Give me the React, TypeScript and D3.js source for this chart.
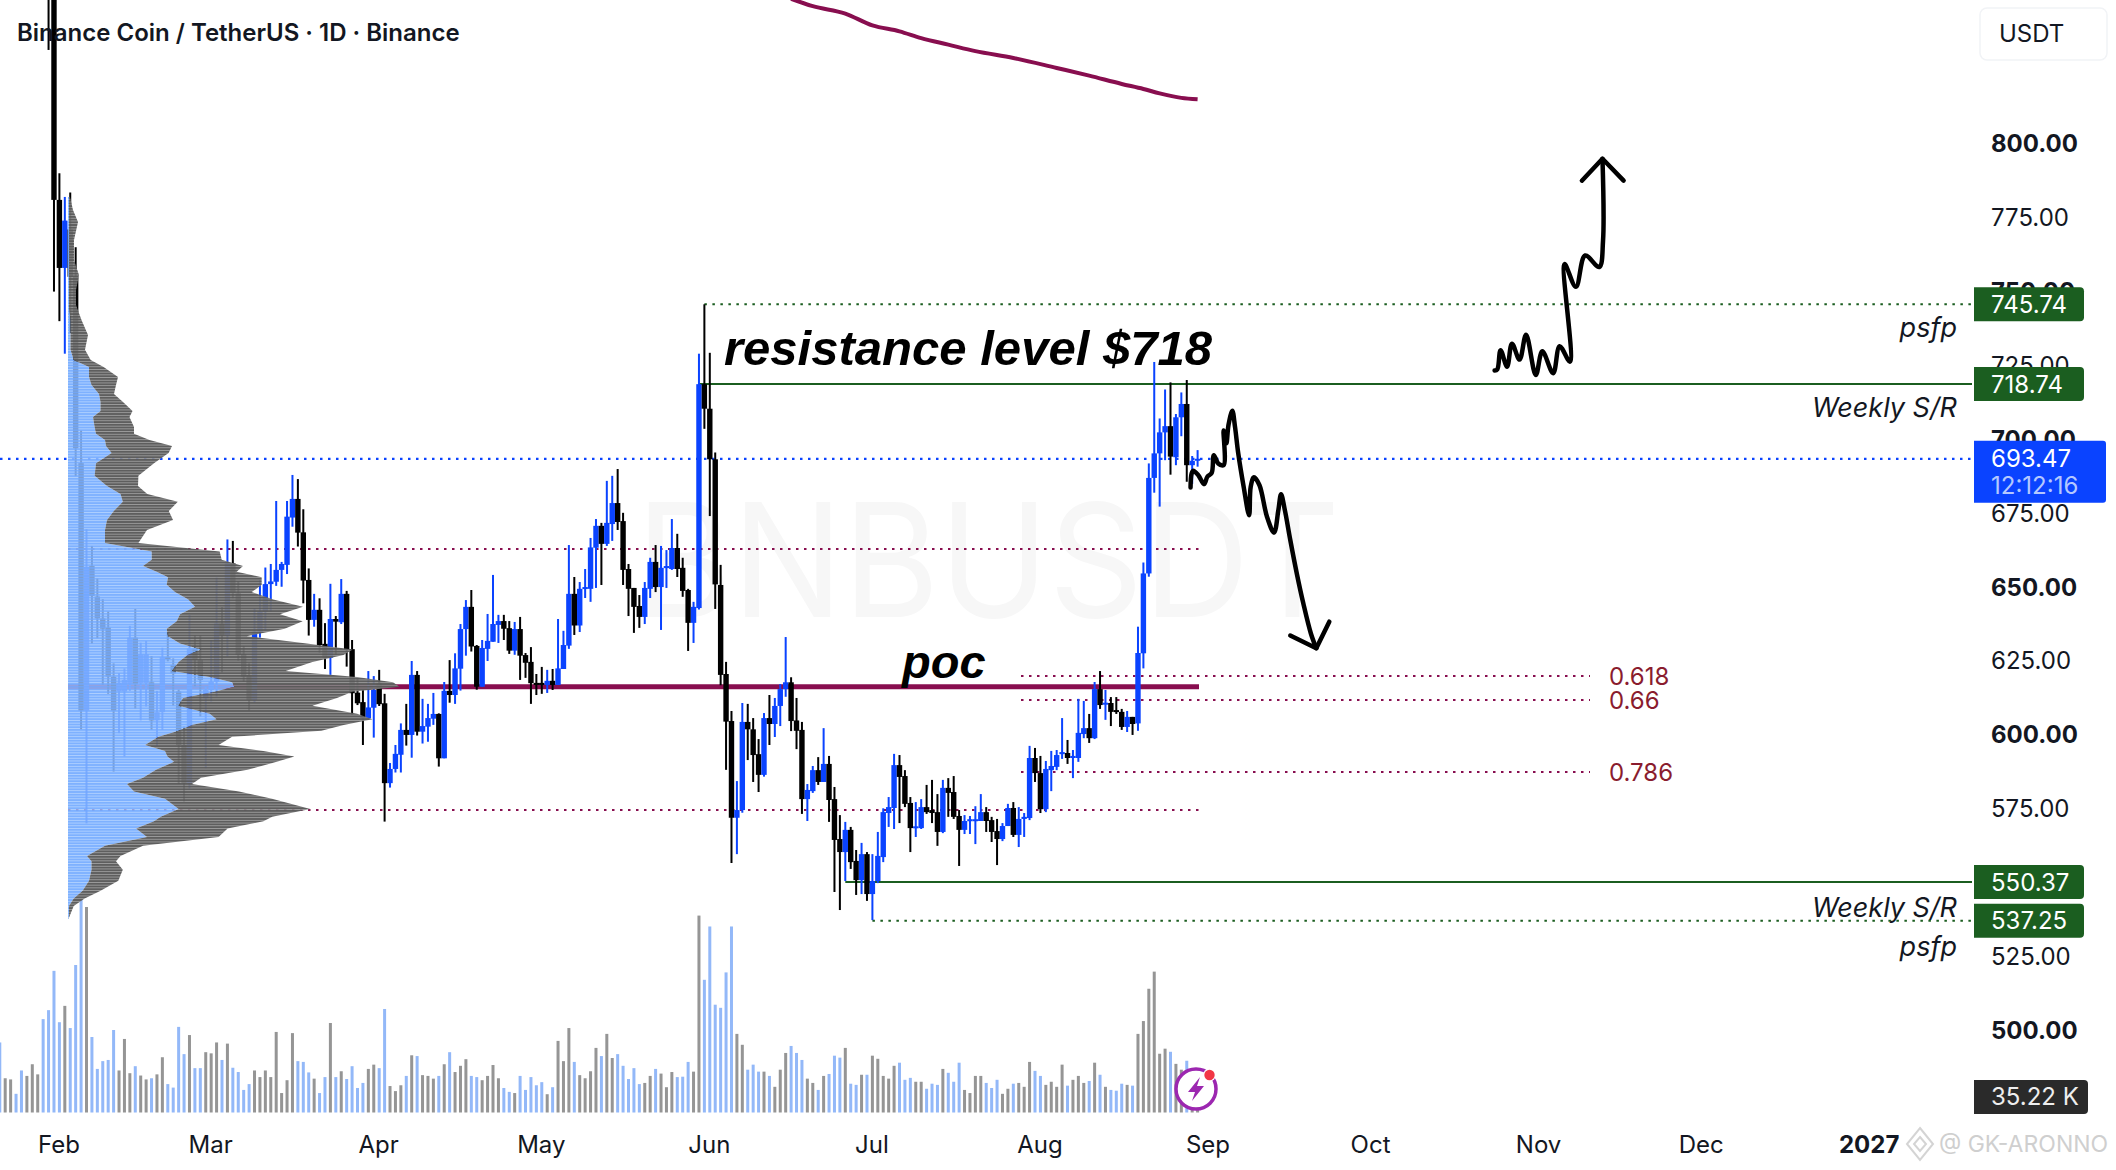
import * as d3 from 'd3';
import { useEffect, useRef } from 'react';

const WIDTH = 2116;
const HEIGHT = 1170;

// candles start two days before Feb 1 (index 0 = day -2), Binance BNB/USDT daily
const FIRST_CANDLE_DAY = -2;
const opens = [870,860,781,758,771,755,692,608.3,657.2,646.9,639.5,636.4,619.8,614.8,614.8,617.3,633,617.6,617.6,617.9,605,607.8,626.4,623.8,614.8,596.7,583.8,629.4,625.4,612.5,615.3,618.1,637.8,633.7,658.1,648,627.5,620.4,611.9,635,641.8,651.1,651.9,655.9,657.6,673.6,679.9,668.6,652.5,639,642.4,630.9,626.2,639.3,638.2,647.8,629.1,614.4,611.2,605.7,609.3,617.6,610.8,583.8,588.6,593.4,601.8,600.1,620.4,601.2,602.9,605.6,607.2,592.2,615,613.6,622.5,635.9,643.4,630.2,616.4,629.2,631.6,637.3,638.6,636.2,628.6,635.9,627.1,624.8,617.7,617.7,617,618.4,617,622.4,630.3,647.8,637.1,649.5,649.5,663.4,670.8,664.7,671.4,678.5,672.4,656.2,649.8,643.7,640,649.5,658.6,650.1,656.5,656.2,663.3,656.6,649.1,638,643,718.7,710.4,693.3,650.8,620.7,604.8,572.1,574.7,604.5,602,593.6,586.6,605.8,603.8,609.9,615.6,617.9,605,601.8,578.4,581.1,588.2,584.2,590.3,578.4,564.9,560.5,568,557.5,551,559.8,546.3,550.7,558.8,573.7,575.4,589.9,586.2,577.1,568.6,568.6,575.7,574.7,574,567.3,582.2,580.8,572.7,568,571,571.2,571,574,571.3,567.6,564.9,569.3,575.4,566.3,571.7,572,592.3,587.2,575,588.2,589.3,593.6,594,592.3,592.3,600.4,602.4,599,615.6,610.5,610.9,608.5,607.9,602.8,606.2,604,627.7,654.7,687,695.3,702.4,704.5,694,707.5,712,691.3,692.8];
const highs = [875,870,790,782,783.5,765,703,669.7,664,653,646,641.8,624.3,621,622.6,637,642.7,631.3,631.9,626.8,615,629.6,634.8,626,615.5,602.9,640.7,633.7,633.7,616.5,632.2,653.3,643.3,666.2,665.7,652,630.2,624.3,642.9,652.5,656.7,657.9,679.2,658.6,679.2,688,686.6,676.4,656.4,647.8,646.3,637.9,651.2,640.3,652.8,648.8,632.2,619.3,615.3,621.7,620,622.1,614,590.6,596.7,604,610.6,625.1,621.7,612.3,610.6,614.3,607.4,618,625.4,627.7,637.6,645.7,649.1,630.5,632.2,641,654.2,640.7,640.7,638.6,638.3,640,627.8,629.8,620.7,623.1,622.1,622.4,639.3,635.3,664.3,653.5,651.8,656.2,666.7,673.1,671.8,686,687.7,690,675.2,657.9,649.8,647.4,651.8,660,664.3,664,662.6,673.1,668.1,660,649.5,645.1,729,745.7,729.3,695.6,657.6,624.8,608.2,584.5,610.9,610.6,605.8,598.7,607.5,613.6,612.6,617.3,633.2,619.6,612.6,604.5,583.5,589.6,592.6,602.4,593,582.5,573,570.7,569,561.2,563.6,560.5,559.8,567.3,575.3,579.1,593.7,593.3,588.2,579.1,577.4,578.4,583.2,584.9,580.1,584.9,585.5,586.2,574.7,573,572.7,576,580.1,575.7,572.4,571.7,570.3,576.8,577.4,575.7,573.7,596.4,595.7,593,591.3,594.7,595,605.8,598.4,595,612.3,611.6,607.2,618,621.7,615.3,612.9,612.9,608.9,608.2,606.2,636.7,658.4,691.9,726.2,707.1,716.9,719.3,708.6,715.9,720.1,694.4,696.4];
const lows = [831.7,750,740,729,736,687.6,602,570.2,631,632.8,617,614,587.7,600.7,592.8,615,609,605,609.7,601.8,596.4,601.8,625,610,583.5,577.6,582,616.4,606.3,588.8,611.4,613.1,621.2,626.6,646.3,625.2,618.1,608.3,611,633,635.4,641.8,650.5,650.2,654.5,670.5,663.8,644.6,633.7,636.7,627.9,622.4,620.4,627.2,637.6,623.2,606.9,610.2,596.7,605.4,599.2,609.9,570.8,582.3,587.4,587.4,596.5,592.4,599.9,597.2,597.8,603.5,589.4,592.2,611,610.6,615.1,626.9,628.3,615.4,616.4,625.1,631.6,631.2,632.2,627.5,627.2,618.7,619.4,610.6,613.6,614,614.3,615.3,617,622.4,629.2,633.9,634.9,646.4,645.1,649.8,650.8,664,665.7,669.4,650.8,640.3,634.6,636.3,637.6,646.4,648.4,635.6,649.8,655.9,653.5,646.8,628.5,631.2,642.5,703.6,674.1,642.7,616.9,588.3,556.8,559.8,573.8,591.6,584.2,580.8,586,596.7,599.4,603.1,613,601.4,595.3,573.4,571,580.5,583.2,584.2,570.7,547,540.9,550.7,554.8,546,546.3,544,537.5,550,557.1,569,568.3,570.3,575.7,560.5,565.6,568.3,573.4,570.3,562.6,566.9,572.4,571.7,555.8,566.6,566.6,563.2,571,567.3,563.9,556.1,564.2,569.3,565.6,562.2,565.6,571.3,584.2,573.7,574,581.1,588.2,592,590.3,585.5,591,599,597.4,598.7,608.9,605.2,603.1,607.2,601.8,601.1,600.1,601.5,622.6,653.6,682,677.3,693,688.1,691.3,701.1,685.7,685,690.8];
const closes = [855,781,758,774,755,697,608.3,657,647.1,639.5,636,619.8,608.3,617.8,618.7,633,617.3,627.4,627.4,605,607.8,626.4,625.8,620.9,596.7,583.8,629.4,625.4,618.7,615.3,618.1,637.8,633.7,658.1,648,627.1,619.8,611.9,635,641.8,651.1,652,655.9,657.9,673.9,679.9,668.5,652.3,639,642.4,630.5,626.2,639.3,638.4,647.8,628.8,614.2,610.8,605.7,609.4,615.3,610.5,583.8,588.6,593.7,601.8,600.1,620.4,601.2,603.1,605.8,607.2,592.2,615,613.6,622.6,635.9,643.4,630,616.4,629.5,631.9,637.6,638.6,636,628.6,635.9,626.9,624.5,617.6,617,617,618.4,617,622.6,630.5,647.8,637.1,649.5,650.1,663.5,670.8,664.7,671.8,678.5,672.1,655.9,649.5,643.4,640,649.8,658.6,650.1,656.6,657.2,663.3,656.2,648.8,638,643.4,718.7,710.4,693.3,651,620.4,604.6,572.1,574.7,604.5,602,593.3,586.6,605.8,603.8,609.9,615.6,617.9,604.8,601.5,578.4,581.5,588.2,584.2,590.3,578.1,564.6,560.5,568,557.1,551,559.8,546.3,550.7,559.2,574,575.7,589.9,585.9,576.8,568.6,569.2,575.7,574,573.7,567.3,582.2,580.5,572.4,568,571,571.6,571.6,574,571,567.3,564.9,569.3,575.4,566.3,571.7,572.4,592.3,587.2,575,588.6,589.6,593.3,594.3,592.3,593,600.8,602.4,599,615.6,610.2,611,607.9,607.9,602.8,606.2,603.8,627.8,654.7,687,695.3,702.4,704.5,694.2,707.5,712,691.3,692.8,693.47];

// volume in thousands, first bar is 11 days before Feb 1
const FIRST_VOLUME_DAY = -11;
const volumes = [180,88,85,48,108,94,124,98,240,263,364,232,274,217,379,547,528,194,112,132,135,212,108,189,101,119,95,85,88,98,142,73,64,220,150,199,114,114,155,152,180,135,177,115,104,58,73,108,91,108,91,207,50,83,204,132,130,103,87,50,91,230,91,106,86,119,63,76,112,123,114,266,68,55,70,94,147,145,96,94,87,94,124,155,104,120,137,94,91,83,94,122,88,63,53,50,94,58,91,70,78,47,65,184,132,217,130,96,88,106,166,145,202,140,150,120,86,114,73,76,94,112,100,65,104,91,92,130,105,506,341,478,277,269,360,478,202,174,110,123,105,105,94,66,110,153,171,153,135,87,76,58,94,99,146,141,166,74,71,97,97,146,138,94,87,120,128,84,89,79,79,61,74,71,112,102,79,128,58,50,94,94,76,63,84,48,61,74,76,66,130,107,94,71,79,66,123,69,84,94,76,81,128,97,66,58,56,74,71,69,202,235,318,362,151,164,156,125,110,133,60,35.22];
// bars before the first visible candle: true = rising day
const earlyVolumeUp = [false,true,true,false,false,true,true,true,false];

// volume profile rows
const profilePrices = [782,777.6,773.5,767.4,760.7,755.6,750.5,745.5,740.4,735.3,730.3,726.9,724.5,721.1,718.4,715.4,712.7,709.6,707.6,704.2,701.9,699.8,697.8,695.4,692,687.7,684.3,681.6,678.9,675.8,672.8,669.4,665,662.1,659.3,657.2,655.3,653.4,650.9,648.4,645.9,643.4,640.9,638.5,636,633.5,631,629,627.1,624.8,621.7,619.7,617.9,616.4,614.7,612.6,610,607.3,605.4,603.5,601.5,599.5,596.7,594.7,592.8,591,588.3,585.6,583.5,581,578.5,575.1,572.4,570.9,568.5,565.6,562.6,559.2,557.4,554.5,550.8,547.4,544.8,542.3,538.9,537.9];
const profileUp = [1,1,1,1,1,1,1,1,2.5,2.5,2.5,5.7,21,21,23.5,31,32.5,32.5,25,26.6,28,37,38,43.6,28,26.6,39,52.5,54.8,45.8,39,37,37,83.7,83.7,75,88.7,100,98.7,107,120.3,127,112,108.7,98.7,100,112,133,119.5,110.6,104,141.8,164,166.4,146.3,115,110.6,141.8,148.5,124,110.6,90.5,77,97,99.4,106,88,75,59,66,97,110.6,92.7,86,68,79,37,19,23.5,23.5,21,14.6,5.7,1,1,0.5];
const profileDown = [1,4,9,5,5,10,7,7,11,17.5,14.5,17,14.6,29,24.5,15,22.5,32,36.5,39.4,38,44.5,66,57,58,43.8,31,26.8,55,55,66,42,33.4,68,70,100,80,93.7,95,76.7,85,108,100,126,118,78.7,126.7,151.7,156,133.8,113.7,147.3,161,165,138.3,154,133.8,147.3,156,151.7,142.8,73.6,73.6,98.4,127,102.7,91.5,58,65,105,107,131.7,111.6,109.4,91.6,71.6,38,33.5,24.5,31.3,29.3,18,11,4.7,0.7,0];

// slow moving average at the top
const maDays = [135,139,145,150,155,159,164,169,176,184,190,196,200,203,207,210];
const maValues = [849,846.5,844,840,838,835.7,833.5,831.3,829,825.6,823,820.2,818.5,817,815.5,815];

// hand drawn projections, day / price pairs
const downSketch: [number, number][] = [[208.7,683.8],[208.9,688.5],[209.2,689.4],[210.1,688],[211.2,684.9],[211.8,687.4],[212.6,688.7],[213,694.7],[213.8,691.9],[214.8,691.3],[214.8,703],[215.3,698.7],[215.7,704.9],[216.4,709.7],[216.9,704.3],[217.5,695.3],[218.5,684],[219.5,674.4],[219.8,684],[220.4,687.2],[221.4,684.6],[222.8,673.9],[224.1,668.5],[224.9,676.1],[225.4,681.5],[226.1,676.1],[227.1,666],[228.3,654.7],[229.5,644.6],[230.9,634.4],[231.9,629.4]];
const downHead: [number, number][] = [[227.1,633.7],[231.9,629.4],[234.3,638.4]];
const upSketch: [number, number][] = [[264.8,723.3],[265.3,723.7],[265.9,730.2],[267.1,724.6],[268,732.4],[269.4,727],[270.6,735.4],[272.4,721.8],[273.6,729.8],[275.6,722.4],[276.8,731.5],[278.7,726.3],[277.7,759.3],[279.8,751.6],[281.5,762.2],[284.1,758.3],[284.8,767.1],[284.7,794.9]];
const upHead: [number, number][] = [[280.9,787.5],[284.7,794.9],[288.6,787.5]];

const priceTicks = [500,525,575,600,625,650,675,700,725,750,775,800];
const boldTicks = [500,600,650,700,750,800];
const monthDays = [0,28,59,89,120,150,181,212,242,273,303,334];
const monthLabels = ['Feb','Mar','Apr','May','Jun','Jul','Aug','Sep','Oct','Nov','Dec','2027'];

const fibLevels = [{ label: '0.618', price: 620 }, { label: '0.66', price: 611.9 }, { label: '0.786', price: 587.6 }];
const POC = 616.4;
const UPPER_NODE = 663;
const LOWER_NODE = 574.7;

const FONT = 'Inter, Roboto, sans-serif';

const day = (d: number) => new Date(Date.UTC(2026, 1, 1) + d * 864e5);

export default function App() {
  const ref = useRef<SVGSVGElement | null>(null);
  useEffect(() => {
    if (!ref.current) return;
    const svg = d3.select(ref.current);
    svg.selectAll('*').remove();
    svg.attr('viewBox', `0 0 ${WIDTH} ${HEIGHT}`);

    const x = d3.scaleUtc().domain([day(0), day(212)]).range([59.4, 59.4 + 5.42 * 212]);
    const y = d3.scaleLinear().domain([500, 800]).range([1031, 143.7]);
    const vol = d3.scaleLinear().domain([0, 600]).range([1112.5, 879]);
    const prof = d3.scaleLinear().domain([0, 332]).range([68, 400]);

    const defs = svg.append('defs');
    const stripes = (id: string, band: string, gap: string) => {
      const p = defs.append('pattern').attr('id', id).attr('patternUnits', 'userSpaceOnUse').attr('width', 4).attr('height', 2.7);
      p.append('rect').attr('width', 4).attr('height', 2.7).attr('fill', gap);
      p.append('rect').attr('width', 4).attr('height', 1.9).attr('fill', band);
    };
    stripes('pBlue', 'rgba(112,168,255,0.78)', 'rgba(160,198,255,0.78)');
    stripes('pGray', 'rgba(84,84,84,0.88)', 'rgba(150,150,150,0.88)');
    const clip = defs.append('clipPath').attr('id', 'plot');
    clip.append('rect').attr('width', 1974).attr('height', 1170);

    // watermark
    svg.append('text').text('BNBUSDT').attr('x', 636).attr('y', 617).attr('textLength', 704)
      .attr('lengthAdjust', 'spacingAndGlyphs').attr('font-family', FONT).attr('font-size', 158).attr('fill', '#f7f7f7');

    const chart = svg.append('g').attr('clip-path', 'url(#plot)');

    // volume, rising days are grey and falling days light blue on this chart
    const isUp = (i: number) => {
      const c = i + FIRST_VOLUME_DAY - FIRST_CANDLE_DAY;
      return c < 0 ? earlyVolumeUp[i] : closes[c] >= opens[c];
    };
    chart.append('g').selectAll('rect').data(volumes).enter().append('rect')
      .attr('x', (_, i) => x(day(i + FIRST_VOLUME_DAY)) - 1.5)
      .attr('y', (d) => vol(d))
      .attr('width', 3)
      .attr('height', (d) => vol(0) - vol(d))
      .attr('fill', (_, i) => (isUp(i) ? '#959595' : '#93b8f8'));

    // level lines
    const level = (price: number, from: number, to: number, color: string, w: number, dash?: string) => {
      chart.append('line').attr('x1', from).attr('x2', to).attr('y1', y(price)).attr('y2', y(price))
        .attr('stroke', color).attr('stroke-width', w).attr('stroke-dasharray', dash || null);
    };
    const dots = '2.5 5.5';
    level(693.47, 0, 1974, '#0a43ff', 2.2, dots);
    level(UPPER_NODE, 68, 1199, '#880e4f', 2, dots);
    level(LOWER_NODE, 68, 1199, '#880e4f', 2, dots);
    fibLevels.forEach((f) => level(f.price, 1021, 1590, '#880e4f', 2, dots));
    level(745.74, x(day(119)), 1972, '#1b5e20', 2, dots);
    level(718.74, x(day(118)), 1972, '#1b5e20', 2);
    level(550.37, x(day(145)), 1972, '#1b5e20', 2);
    level(537.25, x(day(150)), 1972, '#1b5e20', 2, dots);
    level(POC, 68, 1199, '#880e4f', 5);

    // moving average
    const maLine = d3.line<number>().x((_, i) => x(day(maDays[i]))).y((d) => y(d)).curve(d3.curveMonotoneX);
    chart.append('path').attr('d', maLine(maValues)).attr('fill', 'none').attr('stroke', '#880e4f').attr('stroke-width', 4);

    // candles
    const candles = chart.append('g').selectAll('g').data(opens).enter().append('g');
    const color = (i: number) => (closes[i] >= opens[i] ? '#0a43ff' : '#000000');
    candles.append('rect')
      .attr('x', (_, i) => x(day(i + FIRST_CANDLE_DAY)) - 1)
      .attr('y', (_, i) => y(highs[i]))
      .attr('width', 2)
      .attr('height', (_, i) => y(lows[i]) - y(highs[i]))
      .attr('fill', (_, i) => color(i));
    candles.append('rect')
      .attr('x', (_, i) => x(day(i + FIRST_CANDLE_DAY)) - 2.7)
      .attr('y', (_, i) => y(Math.max(opens[i], closes[i])))
      .attr('width', 5.4)
      .attr('height', (_, i) => Math.max(2, Math.abs(y(opens[i]) - y(closes[i]))))
      .attr('fill', (_, i) => color(i));

    // fixed range volume profile
    const rows = d3.range(profilePrices.length);
    const upArea = d3.area<number>().y((i) => y(profilePrices[i])).x0(prof(0)).x1((i) => prof(profileUp[i]));
    const downArea = d3.area<number>().y((i) => y(profilePrices[i])).x0((i) => prof(profileUp[i])).x1((i) => prof(profileUp[i] + profileDown[i]));
    chart.append('path').attr('d', upArea(rows)).attr('fill', 'url(#pBlue)');
    chart.append('path').attr('d', downArea(rows)).attr('fill', 'url(#pGray)');

    // axes
    const yAxis = svg.append('g').attr('transform', 'translate(1991,0)')
      .call(d3.axisRight(y).tickValues(priceTicks).tickSize(0).tickPadding(0).tickFormat(d3.format('.2f') as any));
    yAxis.select('.domain').remove();
    yAxis.selectAll('text').attr('font-family', FONT).attr('font-size', 24).attr('fill', '#131722')
      .attr('font-weight', (d: any) => (boldTicks.includes(d) ? 700 : 400));

    const xAxis = svg.append('g').attr('transform', 'translate(-1,1135.5)')
      .call(d3.axisBottom(x).tickValues(monthDays.map(day)).tickSize(0).tickPadding(0)
        .tickFormat((_, i) => monthLabels[i]));
    xAxis.select('.domain').remove();
    xAxis.selectAll('text').attr('font-family', FONT).attr('font-size', 24).attr('fill', '#131722')
      .attr('font-weight', (_: any, i: number) => (monthLabels[i] === '2027' ? 700 : 400));

    // text notes
    const note = (t: string, tx: number, ty: number, size: number, opts: any = {}) =>
      svg.append('text').text(t).attr('x', tx).attr('y', ty).attr('font-size', size)
        .attr('font-family', opts.family || FONT).attr('font-weight', opts.weight || 400)
        .attr('font-style', opts.style || 'normal').attr('fill', opts.fill || '#131722')
        .attr('text-anchor', opts.anchor || 'start');

    note('Binance Coin / TetherUS · 1D · Binance', 17, 41, 24, { weight: 600 });
    note('resistance level $718', 724, 365, 49, { family: '"Liberation Sans"', weight: 700, style: 'italic', fill: '#000' })
      .attr('textLength', 488).attr('lengthAdjust', 'spacingAndGlyphs');
    note('poc', 902, 678, 47, { family: '"Liberation Sans"', weight: 700, style: 'italic', fill: '#000' });
    note('Weekly S/R', 1957, 417, 27, { style: 'italic', anchor: 'end' });
    note('psfp', 1957, 337, 27, { style: 'italic', anchor: 'end' });
    note('Weekly S/R', 1957, 917, 27, { style: 'italic', anchor: 'end' });
    note('psfp', 1957, 956, 27, { style: 'italic', anchor: 'end' });
    fibLevels.forEach((f) => note(f.label, 1609, y(f.price) + 9, 24, { fill: '#8a1c2e' }));

    // freehand projections
    const sketch = d3.line<[number, number]>().x((d) => x(day(d[0]))).y((d) => y(d[1]));
    const drawn = (pts: [number, number][], curved: boolean) =>
      svg.append('path').attr('d', (curved ? sketch.curve(d3.curveCatmullRom) : sketch.curve(d3.curveLinear))(pts))
        .attr('fill', 'none').attr('stroke', '#000').attr('stroke-width', 4.5)
        .attr('stroke-linecap', 'round').attr('stroke-linejoin', 'round');
    drawn(downSketch, true);
    drawn(downHead, false);
    drawn(upSketch, true);
    drawn(upHead, false);

    // price tags
    const tag = (price: number) => {
      const cy = y(price);
      svg.append('path').attr('d', `M1974 ${cy - 17}h106a4 4 0 0 1 4 4v26a4 4 0 0 1 -4 4h-106z`).attr('fill', '#1b5e20');
      note(price.toFixed(2), 1991, cy + 8.5, 24, { fill: '#fff' });
    };
    [745.74, 718.74, 550.37, 537.25].forEach(tag);

    const lastY = y(693.47);
    svg.append('path').attr('d', `M1974 ${lastY - 18}h129a3 3 0 0 1 3 3v56a3 3 0 0 1 -3 3h-129z`).attr('fill', '#0a43ff');
    note('693.47', 1991, lastY + 8, 24, { fill: '#fff' });
    note('12:12:16', 1991, lastY + 35, 24, { fill: '#b4c8ff' });

    svg.append('path').attr('d', 'M1974 1080h110a4 4 0 0 1 4 4v26a4 4 0 0 1 -4 4h-110z').attr('fill', '#2a2a2a');
    note('35.22 K', 1991, 1105, 24, { fill: '#eee' });

    svg.append('rect').attr('x', 1980).attr('y', 8).attr('width', 127).attr('height', 52).attr('rx', 7)
      .attr('fill', '#fff').attr('stroke', '#f1f3f6').attr('stroke-width', 1.5);
    note('USDT', 1999, 42, 24, { weight: 400 });

    // attribution
    note('@ GK-ARONNO', 1939, 1152, 23, { fill: '#cfcfcf' });
    const mark = svg.append('g').attr('transform', 'translate(1920,1144)').attr('fill', 'none').attr('stroke', '#d4d4d4').attr('stroke-width', 2);
    mark.append('path').attr('d', 'M0 -16L13 0L0 16L-13 0Z');
    mark.append('path').attr('d', 'M0 -7L6 0L0 7L-6 0Z');

    // flash icon
    const icon = svg.append('g').attr('transform', 'translate(1196,1089)');
    icon.append('circle').attr('r', 20).attr('fill', '#fff').attr('stroke', '#9c27b0').attr('stroke-width', 3.5);
    icon.append('path').attr('d', 'M4 -12L-8 3H-1L-4 12L8 -3H1Z').attr('fill', '#9c27b0');
    icon.append('circle').attr('cx', 13.5).attr('cy', -14).attr('r', 6.5).attr('fill', '#fff');
    icon.append('circle').attr('cx', 13.5).attr('cy', -14).attr('r', 5.2).attr('fill', '#f23645');
  }, []);

  return <svg ref={ref} width={WIDTH} height={HEIGHT} style={{ position: 'absolute', left: 0, top: 0, background: '#fff' }} />;
}
